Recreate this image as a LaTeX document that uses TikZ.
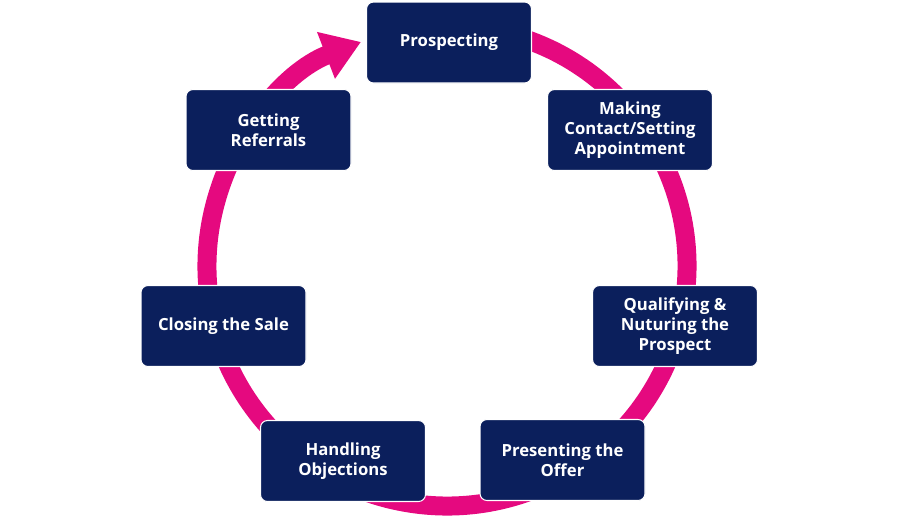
\documentclass[tikz,border=0pt]{standalone}
\usepackage{fontspec}
\setmainfont{Open Sans}
\usetikzlibrary{arrows.meta}
\definecolor{navy}{HTML}{0B1F5C}
\definecolor{ring}{HTML}{E5097F}
\tikzset{stage/.style={draw=white,line width=0.6pt,fill=navy,rounded corners=4pt,minimum width=3.3cm,minimum height=1.62cm,align=center,text=white,font=\fontsize{9.5}{11.5}\selectfont\bfseries}}
\begin{document}
\begin{tikzpicture}
        \useasboundingbox (0,0) rectangle (17.98,-10.5);
        \draw[ring,line width=0.38cm,-{Triangle[length=0.75cm,width=0.95cm]}]
          (8.94,-5.32) ++(80:4.8) arc[start angle=80,end angle=-249,radius=4.8];
        \node[stage] (P) at (8.98,-0.85) {Prospecting};
        \node[stage] (M) at (12.6,-2.6) {Making\\Contact/Setting\\Appointment};
        \node[stage] (Q) at (13.5,-6.52) {Qualifying \&\\Nuturing the\\Prospect};
        \node[stage] (O) at (11.25,-9.2) {Presenting the\\Offer};
        \node[stage] (H) at (6.86,-9.22) {Handling\\Objections};
        \node[stage] (C) at (4.47,-6.52) {Closing the Sale};
        \node[stage] (R) at (5.37,-2.6) {Getting\\Referrals};
      \end{tikzpicture}
\end{document}
